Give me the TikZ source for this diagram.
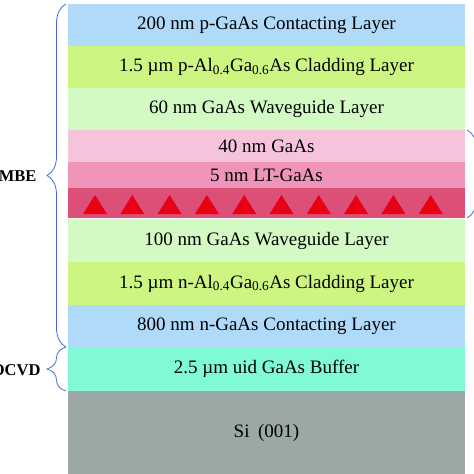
\documentclass[tikz,border=0pt]{standalone}
\usepackage{fontspec}
\setmainfont{Liberation Serif}
\usetikzlibrary{decorations.pathreplacing}

\definecolor{contactblue}{RGB}{176,218,250}
\definecolor{cladgreen}{RGB}{204,245,130}
\definecolor{guidegreen}{RGB}{212,250,196}
\definecolor{gaaspink}{RGB}{245,196,220}
\definecolor{ltpink}{RGB}{240,148,185}
\definecolor{dotpink}{RGB}{220,80,120}
\definecolor{dotred}{RGB}{232,0,20}
\definecolor{bufferaqua}{RGB}{128,250,212}
\definecolor{sigray}{RGB}{156,168,165}
\definecolor{braceblue}{RGB}{70,110,200}

\tikzset{
  layer/.style 2 args={fill=#1, minimum height=#2, minimum width=397pt,
    inner sep=0pt, outer sep=0pt, anchor=north,
    font=\fontsize{19}{21}\selectfont},
  growth/.style={braceblue, line width=0.8pt,
    decorate, decoration={brace, amplitude=19pt}},
  method/.style={anchor=east, font=\fontsize{16.5}{18}\selectfont\bfseries}
}

\begin{document}
\begin{tikzpicture}[x=1pt,y=1pt]
\useasboundingbox (0,0) rectangle (474,-474);
\clip (0,0) rectangle (474,-474);
% layer stack, top to bottom
\node[layer={contactblue}{42pt}] (pcont) at (266.5,-4) {200 nm p-GaAs Contacting Layer};
\node[layer={cladgreen}{42pt}] (pclad) at (266.5,-46) {1.5 µm p-Al\textsubscript{0.4}Ga\textsubscript{0.6}As Cladding Layer};
\node[layer={guidegreen}{42pt}] (pguide) at (266.5,-88) {60 nm GaAs Waveguide Layer};
\node[layer={gaaspink}{32pt}] (cap) at (266.5,-130) {40 nm GaAs};
\node[layer={ltpink}{26pt}] (ltgaas) at (266.5,-162) {5 nm LT-GaAs};
\node[layer={dotpink}{30pt}] (dots) at (266.5,-188) {};
\node[layer={guidegreen}{43pt}] (nguide) at (266.5,-219) {100 nm GaAs Waveguide Layer};
\node[layer={cladgreen}{43pt}] (nclad) at (266.5,-262) {1.5 µm n-Al\textsubscript{0.4}Ga\textsubscript{0.6}As Cladding Layer};
\node[layer={contactblue}{42pt}] (ncont) at (266.5,-305) {800 nm n-GaAs Contacting Layer};
\node[layer={bufferaqua}{44pt}] (buffer) at (266.5,-347) {2.5 µm uid GaAs Buffer};
\node[layer={sigray}{83pt}] (substrate) at (266.5,-391) {Si\hspace{0.45em}(001)\hspace{0.3em}};
% quantum dots
\foreach \i in {0,...,9}
  \fill[dotred] ({95+37.3*\i},-195) -- ++(12,-19) -- ++(-24,0) -- cycle;
% growth methods
\draw[growth] ([xshift=-2pt]ncont.south west) -- ([xshift=-2pt]pcont.north west);
\draw[growth] ([xshift=-2pt]buffer.south west) -- ([xshift=-2pt]buffer.north west);
\draw[growth] ([xshift=2pt]cap.north east) -- ([xshift=2pt]dots.south east);
\node[method] (mbe) at (40,-176) {MBE};
\node[method] (mocvd) at (44,-370) {MOCVD};
\end{tikzpicture}
\end{document}
